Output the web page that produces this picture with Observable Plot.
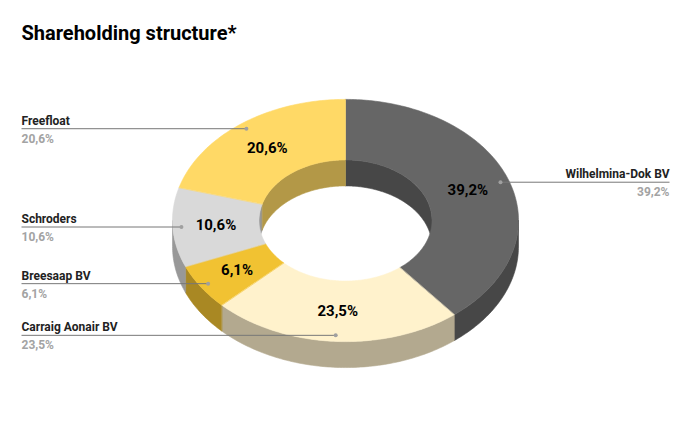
<!DOCTYPE html>
<html><head><meta charset="utf-8">
<script src="https://cdn.jsdelivr.net/npm/d3@7"></script>
<script src="https://cdn.jsdelivr.net/npm/@observablehq/plot@0.6"></script>
<style>body{margin:0;background:#fff;}</style>
</head><body><div id="chart"></div>
<script>
const title = "Shareholding structure*";
const names = ["Wilhelmina-Dok BV", "Carraig Aonair BV", "Breesaap BV", "Schroders", "Freefloat"];
const shares = [39.2, 23.5, 6.1, 10.6, 20.6];
const colors = ["#666666", "#fff2cc", "#f1c232", "#d9d9d9", "#ffd966"];

const W = 691, H = 428;
const cxPx = 345, cyPx = 220, rPx = 173;
const tilt = 0.7, depth = 0.15, rOuter = 1, rInner = 0.5, rLabel = 0.75, rDot = 0.95;
const labelX = 324 / rPx;
const fmt = d3.formatLocale({decimal: ",", thousands: ".", grouping: [3], currency: ["€", ""]}).format(".1f");
const shade = c => { const r = d3.rgb(c); return d3.rgb(r.r * 0.7, r.g * 0.7, r.b * 0.7).formatHex(); };

const arcs = d3.pie().sort(null).value(d => d.value).startAngle(0).endAngle(2 * Math.PI)(
  names.map((name, i) => ({name, value: shares[i], color: colors[i], side: shade(colors[i])}))
);
const data = arcs.map(a => {
  const mid = (a.startAngle + a.endAngle) / 2;
  return {...a.data, a0: a.startAngle, a1: a.endAngle, mid,
    lx: rLabel * Math.sin(mid), ly: rLabel * tilt * Math.cos(mid),
    dx: rDot * Math.sin(mid), dy: rDot * tilt * Math.cos(mid),
    left: Math.sin(mid) < 0};
});

const pt = (a, r, z) => ({x: r * Math.sin(a), y: r * tilt * Math.cos(a) - z});
function arcPts(a0, a1, r, z) {
  const n = Math.max(2, Math.ceil(Math.abs(a1 - a0) / (Math.PI / 180)));
  return d3.range(n + 1).map(i => pt(a0 + (a1 - a0) * i / n, r, z));
}
function clip(a0, a1, b0, b1) {
  const s = Math.max(a0, b0), e = Math.min(a1, b1);
  return s < e ? [s, e] : null;
}
const polys = (pts, color) => Plot.line(pts, {x: "x", y: "y", fill: color, stroke: color, strokeWidth: 0.6, curve: "linear-closed"});

const marks = [];
// outer side walls (front half)
for (const d of data) {
  const c = clip(d.a0, d.a1, Math.PI / 2, 3 * Math.PI / 2);
  if (c) marks.push(polys([...arcPts(c[0], c[1], rOuter, 0), ...arcPts(c[1], c[0], rOuter, depth)], d.side));
}
// inner walls (back half of the hole)
for (const d of data) {
  for (const [b0, b1] of [[0, Math.PI / 2], [3 * Math.PI / 2, 2 * Math.PI]]) {
    const c = clip(d.a0, d.a1, b0, b1);
    if (c) marks.push(polys([...arcPts(c[0], c[1], rInner, 0), ...arcPts(c[1], c[0], rInner, depth)], d.side));
  }
}
// top faces
for (const d of data) {
  marks.push(polys([...arcPts(d.a0, d.a1, rOuter, 0), ...arcPts(d.a1, d.a0, rInner, 0)], d.color));
}
// value labels on slices
marks.push(Plot.text(data, {x: "lx", y: "ly", text: d => fmt(d.value) + "%", fontSize: 15, fontWeight: 700, fill: "#000", lineAnchor: "middle"}));
// leader lines
marks.push(Plot.link(data, {x1: "dx", y1: "dy", x2: d => d.left ? -labelX : labelX, y2: "dy", stroke: "#777", strokeWidth: 1}));
marks.push(Plot.dot(data, {x: "dx", y: "dy", r: 2, fill: "#a0a0a0", stroke: "none"}));
for (const side of [true, false]) {
  const sub = data.filter(d => d.left === side);
  const anchor = side ? "start" : "end";
  const x = side ? -labelX : labelX;
  marks.push(Plot.text(sub, {x: () => x, y: "dy", text: "name", textAnchor: anchor, dy: -7.8, fontSize: 12, fontWeight: 700, fill: "#222", lineAnchor: "middle"}));
  marks.push(Plot.text(sub, {x: () => x, y: "dy", text: d => fmt(d.value) + "%", textAnchor: anchor, dy: 10.2, fontSize: 12, fontWeight: 700, fill: "#a3a3a3", lineAnchor: "middle"}));
}
marks.push(Plot.text([title], {frameAnchor: "top-left", dx: 21, dy: 33, fontSize: 20, fontWeight: 700, fill: "#000", textAnchor: "start", lineAnchor: "middle"}));

const chart = Plot.plot({
  width: W, height: H, margin: 0,
  x: {domain: [-cxPx / rPx, (W - cxPx) / rPx], axis: null},
  y: {domain: [-(H - cyPx) / rPx, cyPx / rPx], axis: null},
  style: {fontFamily: "Roboto, sans-serif", background: "#fff", overflow: "visible"},
  marks
});
document.getElementById("chart").append(chart);
</script>
</body></html>
